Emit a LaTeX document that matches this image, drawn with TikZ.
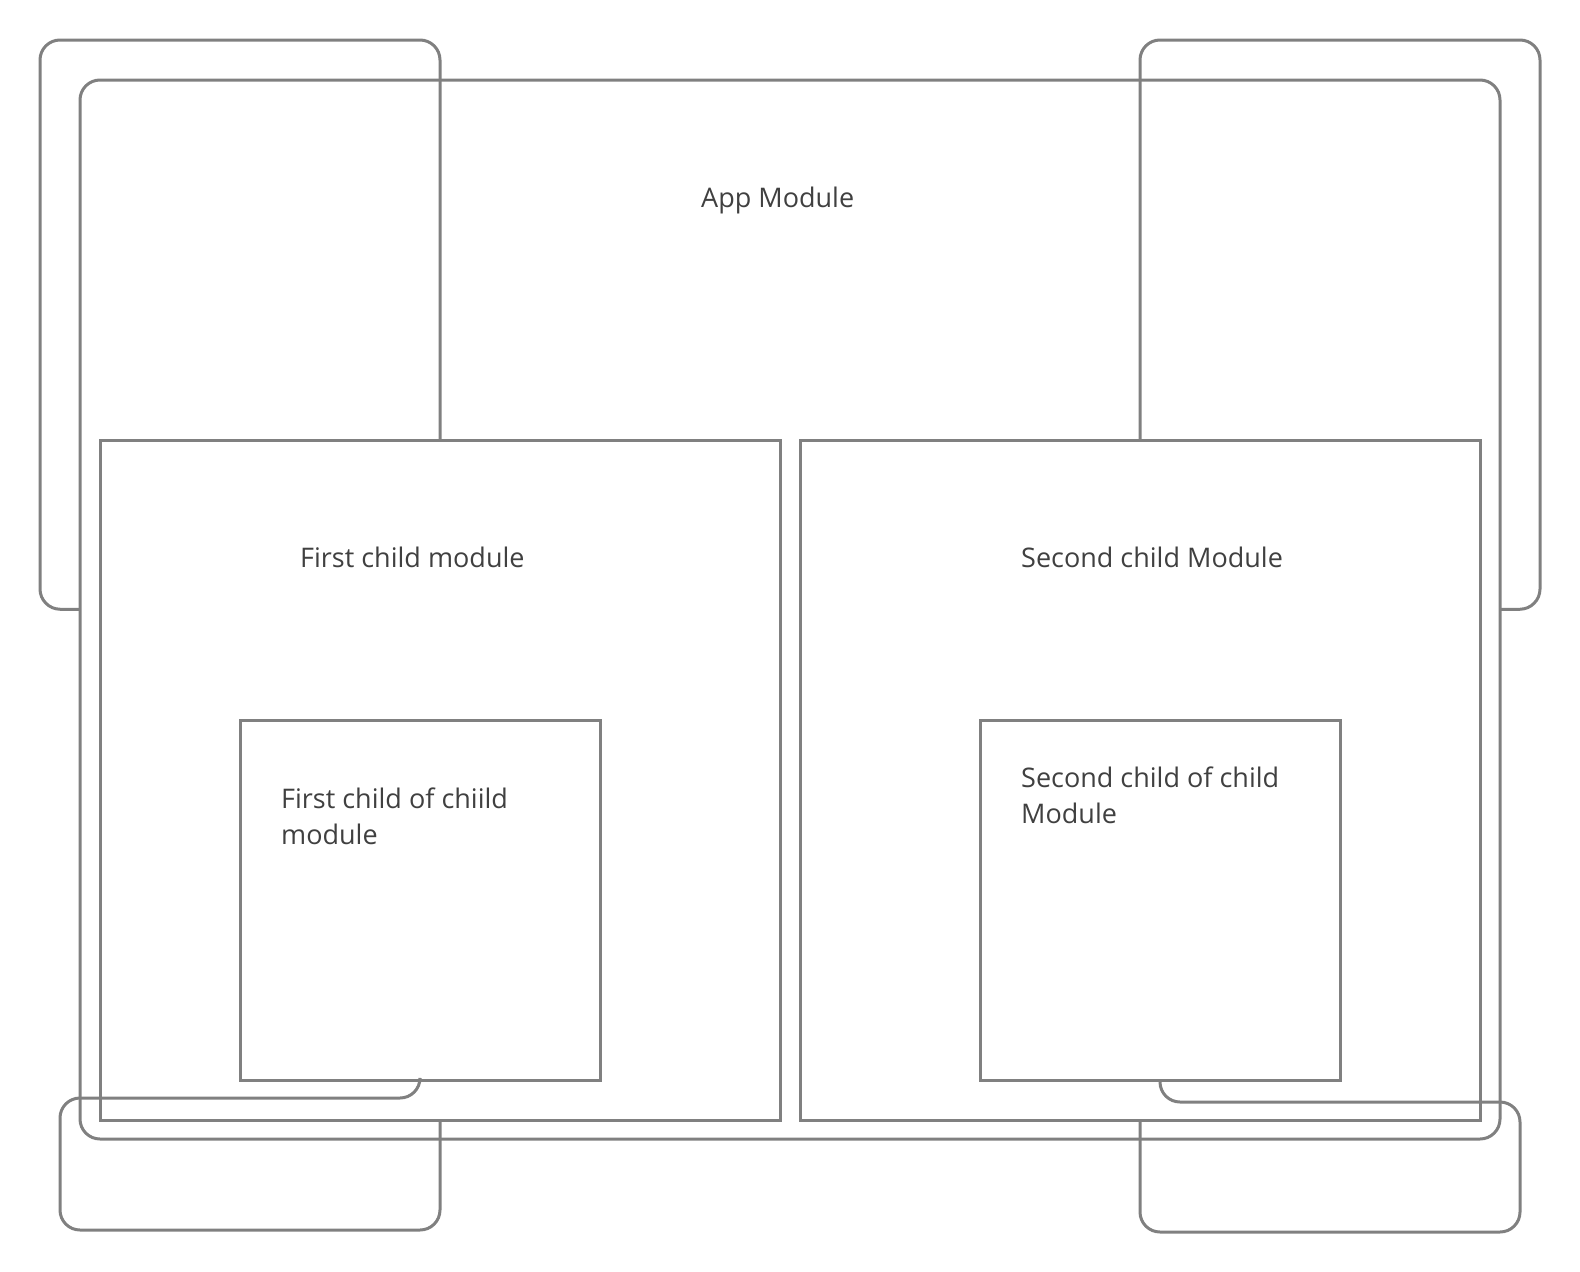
\documentclass[tikz,border=0pt]{standalone}
\usepackage{fontspec}
\setmainfont{Open Sans}
\definecolor{edge}{HTML}{808080}
\definecolor{txt}{HTML}{404040}
\begin{document}
\begin{tikzpicture}[x=1pt,y=-1pt,
  box/.style={draw=edge, line width=3pt, inner sep=0pt, outer sep=0pt, rectangle},
  rbox/.style={box, rounded corners=20pt},
  wire/.style={draw=edge, line width=3pt, rounded corners=20pt},
  lbl/.style={text=txt, font=\fontsize{27}{36}\selectfont, inner sep=0pt, anchor=base west, align=left}]
\useasboundingbox (0,0) rectangle (1580,1272);
% boxes
\node[rbox, minimum width=1420pt, minimum height=1059pt] (app) at (790,609.5) {};
\node[box, minimum width=680pt, minimum height=680pt] (c1) at (440,780) {};
\node[box, minimum width=680pt, minimum height=680pt] (c2) at (1140,780) {};
\node[box, minimum width=360pt, minimum height=360pt] (g1) at (420,900) {};
\node[box, minimum width=360pt, minimum height=360pt] (g2) at (1160,900) {};
% labels (base anchor of a two-line node is the last line)
\node[lbl] (tapp) at (701,207) {App Module};
\node[lbl] (tc1) at (300,567) {First child module};
\node[lbl] (tc2) at (1021,567) {Second child Module};
\node[lbl] (tg1) at (281,844) {First child of chiild\\module};
\node[lbl] (tg2) at (1021,823) {Second child of child\\Module};
% connectors
\draw[wire] (c1.north) -- (c1.north |- 0,40) -- (40,40) -- (40,609) -- (app.west);
\draw[wire] (c2.north) -- (c2.north |- 0,40) -- (1540,40) -- (1540,609) -- (app.east);
\draw[wire] (c1.south) -- (c1.south |- 0,1230) -- (60,1230) -- (60,1098) -- (g1.south |- 0,1098) -- (g1.south);
\draw[wire] (c2.south) -- (c2.south |- 0,1232) -- (1520,1232) -- (1520,1102) -- (g2.south |- 0,1102) -- (g2.south);
\end{tikzpicture}
\end{document}
